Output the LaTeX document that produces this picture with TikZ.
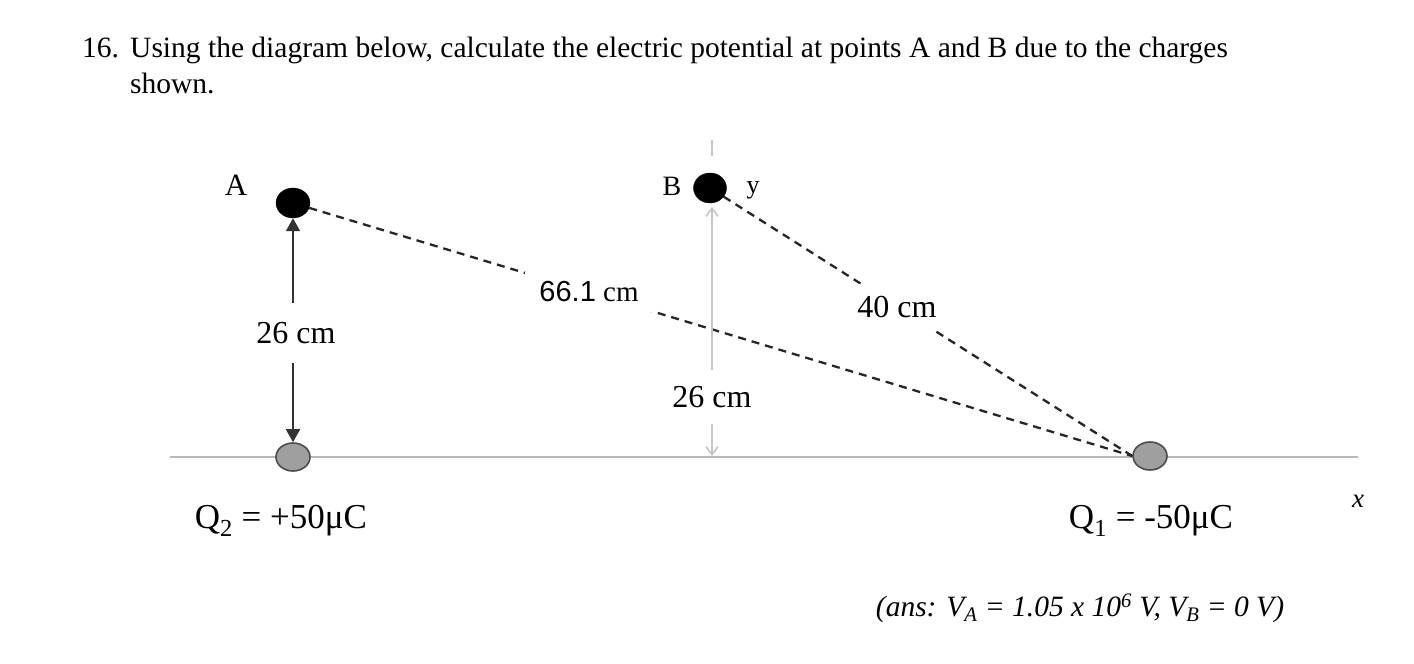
\documentclass[tikz,border=0pt]{standalone}
\usepackage{fontspec}
\setmainfont{Liberation Serif}
\newfontfamily\arialf{Liberation Sans}
\usetikzlibrary{shapes.geometric,arrows.meta}
\tikzset{
  blackdot/.style={ellipse,fill=black,draw=black,minimum width=34pt,minimum height=30pt,inner sep=0pt},
  charge/.style={ellipse,fill=gray!75,draw=black!70,line width=1.6pt,minimum width=34pt,minimum height=28pt,inner sep=0pt},
  axisline/.style={draw=gray!55,line width=1.6pt},
  dashline/.style={draw=black!85,line width=2.3pt,dash pattern=on 8pt off 6pt},
  dimarrow/.style={draw=black!80,line width=1.8pt,{Triangle[length=13pt,width=14pt]}-{Triangle[length=13pt,width=14pt]}},
  grayarrow/.style={draw=gray!45,line width=1.6pt,{Straight Barb[length=8pt,width=12pt]}-{Straight Barb[length=8pt,width=12pt]}},
  lbl/.style={font=\fontsize{31}{34}\selectfont,inner sep=0pt},
  gaplbl/.style={fill=white,font=\fontsize{32}{34}\selectfont},
  big/.style={font=\fontsize{35}{36}\selectfont,inner sep=0pt},
  titlef/.style={anchor=base west,inner sep=0pt,font=\fontsize{29.5}{33}\selectfont}
}
\begin{document}
\begin{tikzpicture}[x=1pt,y=-1pt]
\useasboundingbox (0,0) rectangle (1414,664);
% title
\node[titlef] (tn) at (82,57) {16.};
\node[titlef] (t1) at (130,57) {Using the diagram below, calculate the electric potential at points A and B due to the charges};
\node[titlef] (t2) at (130,93) {shown.};
% axis
\coordinate (axL) at (170,457);
\coordinate (axR) at (1358,457);
\draw[axisline] (axL) -- (axR);
% charges and points
\node[charge] (Q2) at (293,457) {};
\node[charge] (Q1) at (1150,456) {};
\node[blackdot,minimum width=34pt,minimum height=30pt] (A) at (293,203) {};
\node[blackdot,minimum width=33pt] (B) at (710,188) {};
\node[lbl] (lA) at (236,185) {A};
\node[lbl,font=\fontsize{28}{30}\selectfont] (lB) at (672,186) {B};
\node[lbl,font=\fontsize{26}{28}\selectfont] (ly) at (753,190) {y};
% dashed lines
\draw[dashline] (A) -- (Q1.west);
\draw[dashline] (B) -- (Q1.west);
\node[gaplbl,font=\fontsize{29}{32}\selectfont,inner xsep=14pt,inner ysep=10pt] (d1) at (589,292) {{\arialf 66.1} cm};
\node[gaplbl,inner xsep=10pt,inner ysep=12pt] (d2) at (897,307) {40 cm};
% left vertical dimension
\draw[dimarrow] (A.south) -- (Q2.north);
\node[gaplbl,inner xsep=4pt,inner ysep=19pt] (dl) at (296,333) {26 cm};
% middle vertical dimension
\coordinate (vtop) at (712,140);
\coordinate (vtop2) at (712,156);
\coordinate (vb1) at (712,207);
\coordinate (vb2) at (712,456);
\draw[draw=gray!45,line width=1.6pt] (vtop) -- (vtop2);
\draw[grayarrow] (vb1) -- (vb2);
\node[gaplbl,inner xsep=4pt,inner ysep=16pt] (dm) at (712,397) {26 cm};
% charge labels
\node[big] (lQ2) at (281,521) {Q\textsubscript{2} = +50μC};
\node[big] (lQ1) at (1151,521) {Q\textsubscript{1} = -50μC};
\node[lbl,font=\fontsize{27}{28}\selectfont\itshape] (lx) at (1358,501) {x};
% answer
\node[big,font=\fontsize{29.5}{34}\selectfont\itshape] (ans) at (1080,608) {(ans: V\textsubscript{A} = 1.05 x 10\textsuperscript{6} V, V\textsubscript{B} = 0 V)};
\end{tikzpicture}
\end{document}
